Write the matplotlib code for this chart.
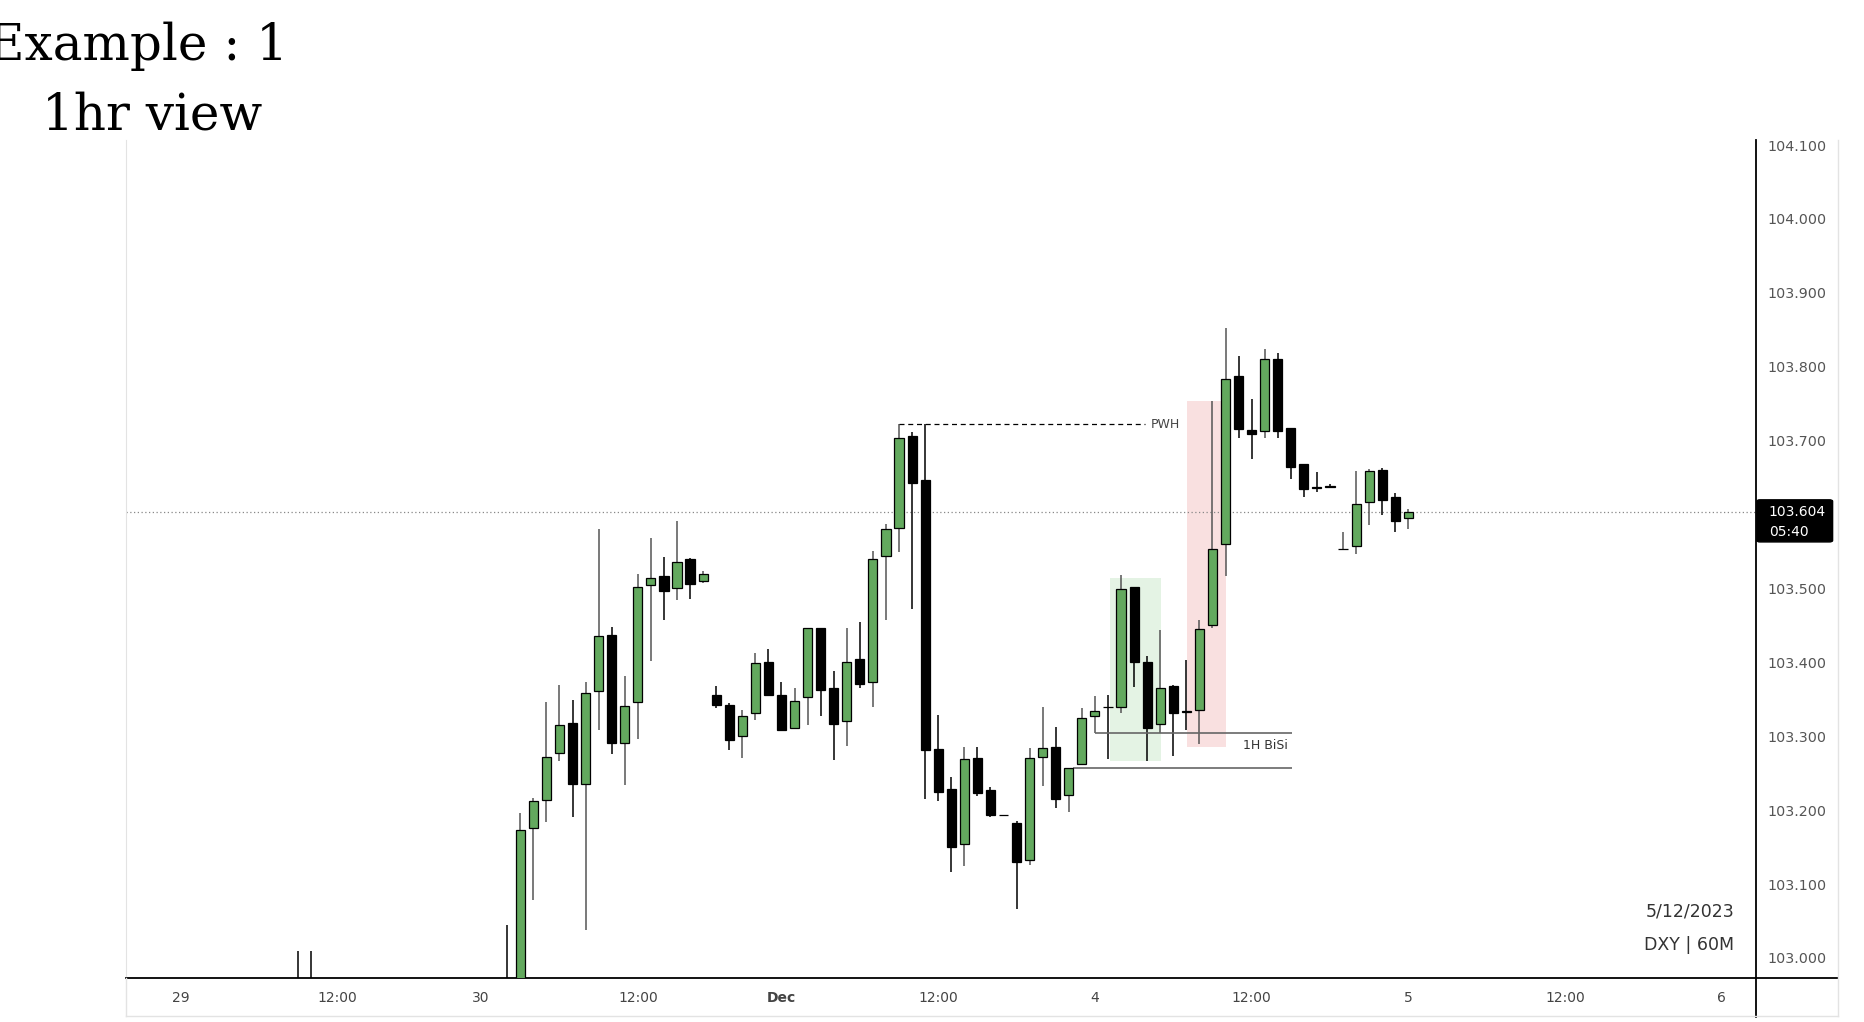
import matplotlib
matplotlib.use('Agg')
import matplotlib.pyplot as plt
from matplotlib.lines import Line2D
from matplotlib.patches import Rectangle, FancyBboxPatch
from matplotlib.transforms import blended_transform_factory

# hourly DXY candles, x = bar index counted from 29 Nov 00:00
bars = [9, 10, 25, 26, 27, 28, 29, 30, 31, 32, 33, 34, 35, 36, 37, 38, 39, 40,
        41, 42, 43, 44, 45, 46, 47, 48, 49, 50, 51, 52, 53, 54, 55, 56, 57, 58,
        59, 60, 61, 62, 63, 64, 65, 66, 67, 68, 69, 70, 71, 72, 73, 74, 75, 76,
        77, 78, 79, 80, 81, 82, 83, 84, 85, 86, 87, 88, 89, 90, 91, 92, 93, 94]
opens = [102.96, 102.96, 102.95, 102.95, 103.176, 103.214, 103.277, 103.318, 103.236, 103.361,
         103.437, 103.291, 103.346, 103.505, 103.517, 103.500, 103.540, 103.510,
         103.356, 103.342, 103.300, 103.331, 103.401, 103.356, 103.311, 103.353,
         103.447, 103.365, 103.321, 103.404, 103.373, 103.544, 103.582, 103.707,
         103.647, 103.283, 103.229, 103.154, 103.271, 103.227, 103.193, 103.182,
         103.133, 103.272, 103.285, 103.221, 103.262, 103.327, 103.340, 103.339,
         103.502, 103.401, 103.316, 103.368, 103.334, 103.336, 103.451, 103.560,
         103.787, 103.715, 103.713, 103.811, 103.717, 103.668, 103.637, 103.639,
         103.554, 103.557, 103.617, 103.661, 103.624, 103.595]
highs = [103.010, 103.010, 103.045, 103.196, 103.217, 103.347, 103.370, 103.349, 103.373, 103.581,
         103.448, 103.382, 103.520, 103.569, 103.543, 103.592, 103.541, 103.523,
         103.368, 103.345, 103.335, 103.413, 103.418, 103.373, 103.366, 103.447,
         103.447, 103.388, 103.447, 103.454, 103.551, 103.587, 103.722, 103.712,
         103.723, 103.329, 103.245, 103.285, 103.285, 103.231, 103.193, 103.185,
         103.284, 103.340, 103.313, 103.257, 103.338, 103.355, 103.356, 103.518,
         103.502, 103.409, 103.444, 103.370, 103.403, 103.457, 103.754, 103.852,
         103.815, 103.756, 103.824, 103.819, 103.717, 103.668, 103.657, 103.641,
         103.577, 103.659, 103.662, 103.663, 103.629, 103.607]
lows = [102.90, 102.90, 102.90, 102.94, 103.078, 103.184, 103.266, 103.191, 103.038, 103.309,
        103.276, 103.234, 103.296, 103.402, 103.457, 103.485, 103.486, 103.507,
        103.338, 103.281, 103.270, 103.322, 103.355, 103.308, 103.310, 103.315,
        103.327, 103.268, 103.287, 103.365, 103.340, 103.457, 103.549, 103.472,
        103.215, 103.213, 103.117, 103.124, 103.219, 103.191, 103.193, 103.066,
        103.126, 103.233, 103.203, 103.198, 103.262, 103.304, 103.269, 103.331,
        103.367, 103.267, 103.304, 103.273, 103.309, 103.290, 103.446, 103.517,
        103.703, 103.675, 103.703, 103.704, 103.648, 103.624, 103.630, 103.637,
        103.552, 103.547, 103.586, 103.600, 103.576, 103.580]
closes = [102.94, 102.94, 102.93, 103.173, 103.212, 103.272, 103.315, 103.236, 103.359, 103.436,
          103.291, 103.341, 103.502, 103.514, 103.497, 103.536, 103.506, 103.520,
          103.342, 103.295, 103.327, 103.399, 103.356, 103.309, 103.348, 103.447,
          103.362, 103.317, 103.401, 103.371, 103.540, 103.581, 103.704, 103.643,
          103.282, 103.225, 103.150, 103.269, 103.223, 103.193, 103.193, 103.130,
          103.270, 103.284, 103.215, 103.257, 103.325, 103.334, 103.339, 103.499,
          103.400, 103.311, 103.365, 103.331, 103.333, 103.445, 103.554, 103.784,
          103.716, 103.709, 103.810, 103.713, 103.665, 103.635, 103.636, 103.638,
          103.554, 103.614, 103.659, 103.620, 103.592, 103.604]

tick_bars = [0, 12, 23, 35, 46, 58, 70, 82, 94, 106, 118]
tick_labels = ['29', '12:00', '30', '12:00', 'Dec', '12:00', '4', '12:00', '5', '12:00', '6']
# 103.600 sits under the live price tag, so it is left out
price_ticks = [103.0, 103.1, 103.2, 103.3, 103.4, 103.5, 103.7, 103.8, 103.9, 104.0, 104.1]

pwh = 103.722
bisi_top = 103.304
bisi_bottom = 103.257
last_price = closes[-1]

green = '#63a95e'

fig = plt.figure(figsize=(18.64, 10.22), dpi=100)
W, H = 1864, 1022
ax = fig.add_axes([126 / W, (H - 977.5) / H, (1756 - 126) / W, (977.5 - 140) / H])
ax.set_xlim(-4.19, 120.62)
ax.set_ylim(102.9736, 104.1069)

# highlighted zones
ax.add_patch(Rectangle((71.15, 103.267), 3.9, 0.247, facecolor='#4caf50', alpha=0.15,
                       edgecolor='none', zorder=0))
ax.add_patch(Rectangle((77.07, 103.286), 2.93, 0.468, facecolor='#e57373', alpha=0.22,
                       edgecolor='none', zorder=0))

# candles
for b, o, hi, lo, c in zip(bars, opens, highs, lows, closes):
    up = c >= o
    wick = '#555555' if up else 'black'
    ax.vlines(b, lo, hi, color=wick, linewidth=1.1, zorder=2)
    ax.bar(b, abs(c - o), bottom=min(o, c), width=0.7,
           color=green if up else 'black', edgecolor='black', linewidth=0.9, zorder=3)

# current price line
ax.axhline(last_price, color='#888888', linestyle=(0, (1, 2)), linewidth=0.9, zorder=1)

# PWH
ax.hlines(pwh, 55, 73.8, colors='black', linestyles=(0, (4, 3)), linewidth=0.9, zorder=2)
ax.text(74.25, pwh, 'PWH', fontsize=9, color='#444444', va='center', ha='left')

# 1H BISI
ax.hlines(bisi_top, 70, 85.07, colors='#666666', linewidth=1.2, zorder=2)
ax.hlines(bisi_bottom, 68.35, 85.07, colors='#666666', linewidth=1.2, zorder=2)
ax.text(84.8, 103.288, '1H BiSi', fontsize=9, color='#333333', va='center', ha='right')

# axes styling
ax.yaxis.tick_right()
ax.set_yticks(price_ticks)
ax.set_yticklabels(['%.3f' % p for p in price_ticks])
ax.set_xticks(tick_bars)
ax.set_xticklabels(tick_labels)
ax.get_xticklabels()[4].set_fontweight('bold')
ax.tick_params(axis='y', length=0, pad=8, labelsize=10.3, labelcolor='#555555')
ax.tick_params(axis='x', length=0, pad=9.5, labelsize=10, labelcolor='#444444')
ax.spines['top'].set_visible(False)
ax.spines['left'].set_color('#e3e3e3')
ax.spines['bottom'].set_linewidth(1.3)
ax.spines['right'].set_linewidth(1.3)

# price tag on the scale
tr = blended_transform_factory(ax.transAxes, ax.transData)
ax.add_patch(FancyBboxPatch((1.0005, last_price - 0.041), 0.0465, 0.057,
                            boxstyle='round,pad=0,rounding_size=0.002', transform=tr,
                            facecolor='black', edgecolor='black', clip_on=False, zorder=5))
ax.text(1.0078, last_price - 0.0005, '%.3f' % last_price, transform=tr, color='white',
        fontsize=10, va='center', ha='left', zorder=6)
ax.text(1.0078, last_price - 0.0275, '05:40', transform=tr, color='white',
        fontsize=10, va='center', ha='left', zorder=6)

# screenshot frame pieces outside the axes
def fig_line(x0, y0, x1, y1, color, lw):
    fig.add_artist(Line2D([x0 / W, x1 / W], [1 - y0 / H, 1 - y1 / H], color=color, linewidth=lw))

fig_line(1756, 977.5, 1838, 977.5, 'black', 1.3)
fig_line(1756, 977.5, 1756, 1017, 'black', 1.3)
fig_line(1838, 140, 1838, 1016, '#e3e3e3', 1.0)
fig_line(126, 1016, 1838, 1016, '#e3e3e3', 1.0)
fig_line(126, 977.5, 126, 1016, '#e3e3e3', 1.0)

# chart stamp
fig.text(1734 / W, 1 - 911 / H, '5/12/2023', fontsize=12.5, color='#333333', ha='right', va='center')
fig.text(1734 / W, 1 - 945 / H, 'DXY | 60M', fontsize=12.5, color='#333333', ha='right', va='center')

# title (runs off the left edge, as in the source image)
fig.text(138.5 / W, 1 - 60 / H, 'Example : 1', fontsize=36, family='DejaVu Serif',
         ha='center', va='baseline')
fig.text(152.5 / W, 1 - 130 / H, '1hr view', fontsize=36, family='DejaVu Serif',
         ha='center', va='baseline')

fig.savefig('out.png', dpi=100)
plt.close(fig)
